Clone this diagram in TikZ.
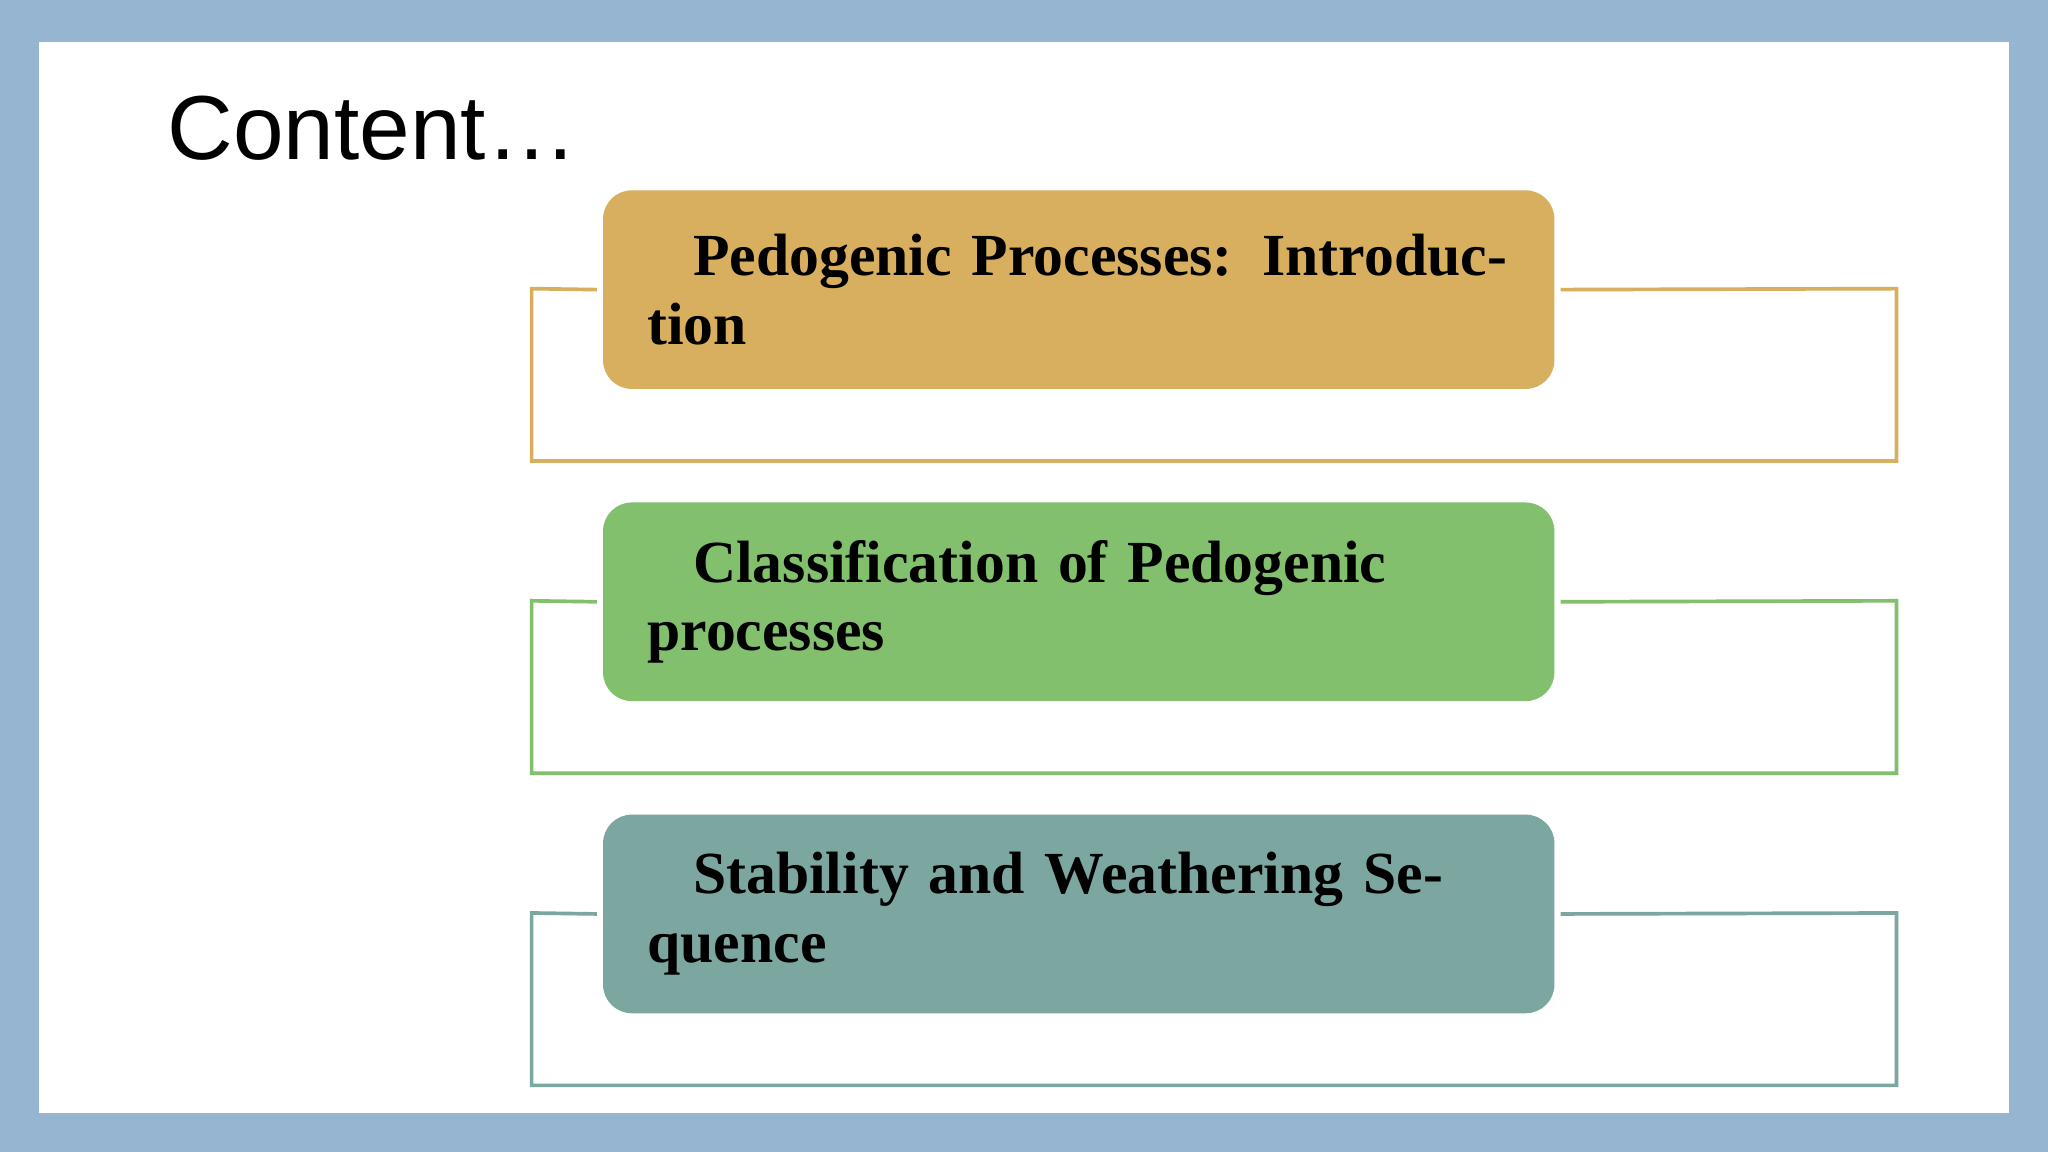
\documentclass[tikz,border=0pt]{standalone}
\usepackage{fontspec}
\setmainfont{Liberation Serif}
\newfontfamily\titlefont{Liberation Sans}
\definecolor{frameblue}{HTML}{95B5D0}
\definecolor{boxgold}{HTML}{D8AF5E}
\definecolor{boxgreen}{HTML}{82C06E}
\definecolor{boxteal}{HTML}{7BA7A0}
\begin{document}
\begin{tikzpicture}[x=0.01cm,y=-0.01cm,
  item/.style={rounded corners=0.22cm,minimum width=7.28cm,minimum height=1.52cm,
    inner sep=0pt,anchor=north west,text width=6.6cm,align=left,
    font=\fontsize{13pt}{15pt}\selectfont\bfseries},
  bracket/.style={line width=0.8pt}]
\fill[frameblue] (0,0) rectangle (1568,882);
\fill[white] (30,32) rectangle (1538,852);
\useasboundingbox (0,0) rectangle (1568,882);
\node[anchor=base west,font=\titlefont\fontsize{19.8pt}{22pt}\selectfont] (title) at (116,122) {Content…};
\foreach \i/\y/\c/\t in {1/145/boxgold/{Pedogenic Processes: Introduction},
                          2/384/boxgreen/{Classification of Pedogenic processes},
                          3/623/boxteal/{Stability and Weathering Sequence}}{
  \node[item,fill=\c] (b\i) at (461,\y) {\hspace*{0.35cm}\t};
  \coordinate (l\i) at (407,\y+76);
  \coordinate (r\i) at (1452,\y+76);
  \draw[bracket,draw=\c] ([xshift=-0.04cm]b\i.west) -- (l\i) -- ++(0,132) -| (r\i) -- ([xshift=0.04cm]b\i.east);
}
\end{tikzpicture}
\end{document}
